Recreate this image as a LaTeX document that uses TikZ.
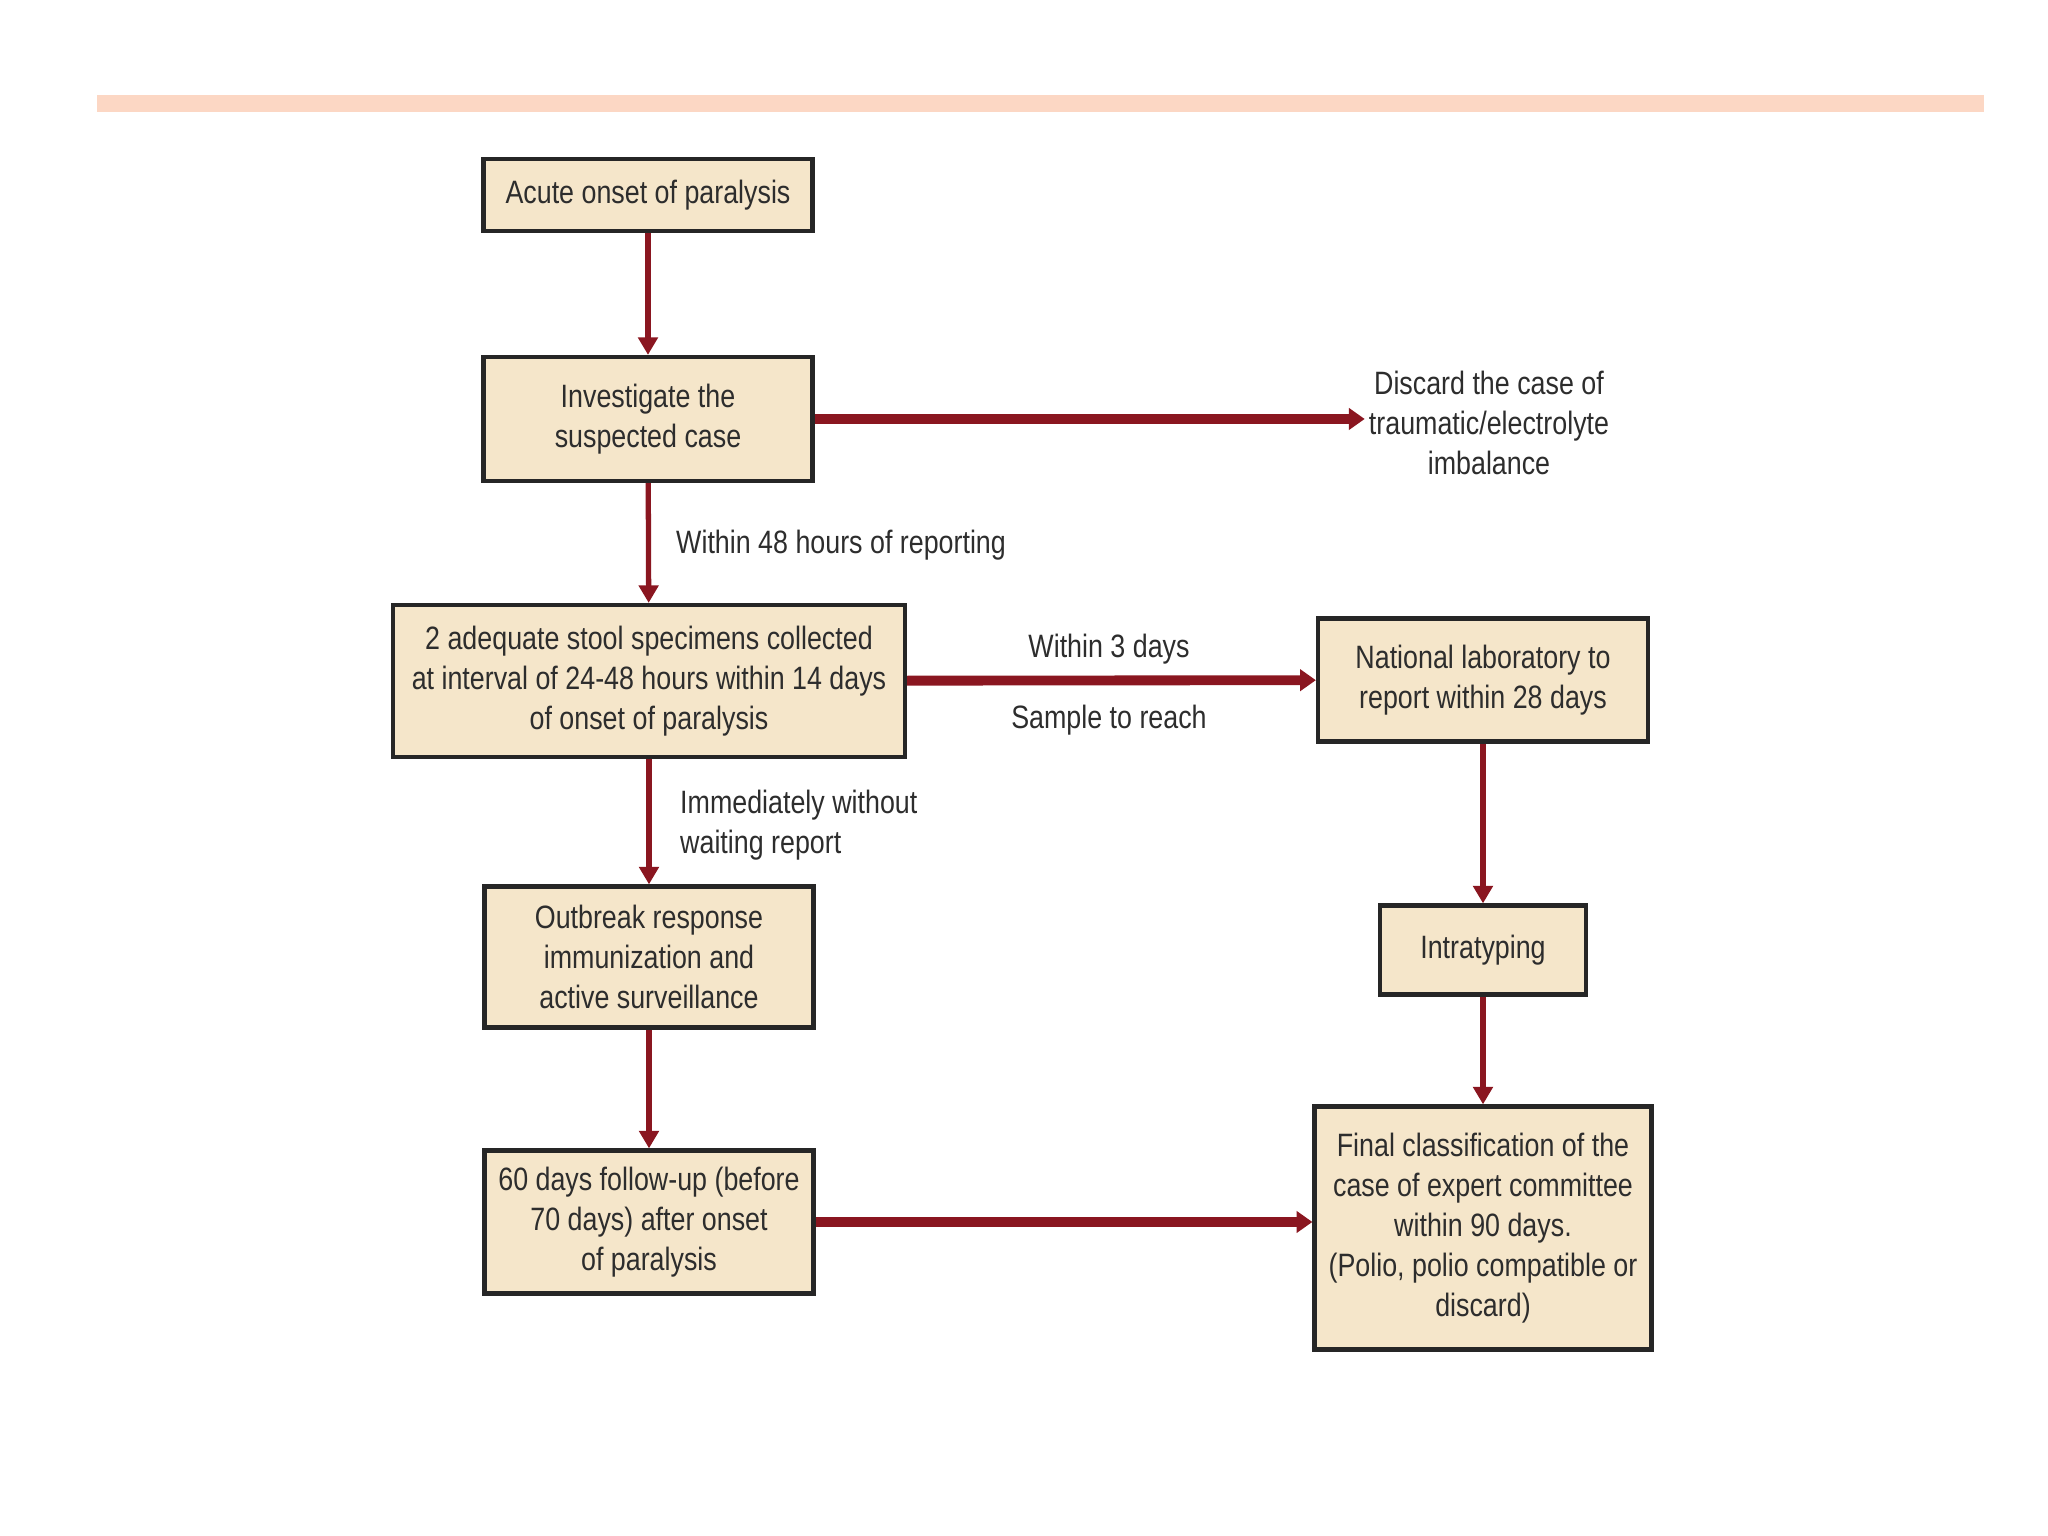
\documentclass[tikz,border=0pt]{standalone}
\usepackage{fontspec}
\setmainfont{Liberation Sans}[FakeStretch=0.83]
\usetikzlibrary{arrows.meta}
\definecolor{boxfill}{RGB}{245,230,202}
\definecolor{flowred}{RGB}{138,22,32}
\definecolor{inkgray}{RGB}{45,45,45}
\definecolor{barpink}{RGB}{252,215,196}

\begin{document}
\begin{tikzpicture}
            [box/.style={draw=black!85,line width=1.2pt,fill=boxfill,align=center,inner sep=2pt,text=inkgray,font=\fontsize{9.2}{11.4}\selectfont},
             lbl/.style={text=inkgray,inner sep=1pt,font=\fontsize{9.2}{11.4}\selectfont},
             down/.style={draw=flowred,line width=1.5pt,-{Triangle[length=5pt,width=5.5pt]}},
             side/.style={draw=flowred,line width=2.8pt,-{Triangle[length=4.5pt,width=6pt]}}]

            \useasboundingbox (0,0) rectangle (20.48,15.36);
            \fill[barpink] (0.97,14.24) rectangle (19.84,14.41);

            \node[box,minimum width=3.29cm,minimum height=0.72cm] (onset) at (6.48, 13.41) {Acute onset of paralysis};
            \node[box,minimum width=3.29cm,minimum height=1.24cm] (invest) at (6.48, 11.17) {Investigate the\\suspected case};
            \node[box,minimum width=5.12cm,minimum height=1.52cm] (stool) at (6.49, 8.55) {2 adequate stool specimens collected\\at interval of 24-48 hours within 14 days\\of onset of paralysis};
            \node[box,minimum width=3.29cm,minimum height=1.41cm] (outbreak) at (6.49, 5.79) {Outbreak response\\immunization and\\active surveillance};
            \node[box,minimum width=3.29cm,minimum height=1.43cm] (follow) at (6.49, 3.14) {60 days follow-up (before\\70 days) after onset\\of paralysis};
            \node[box,minimum width=3.30cm,minimum height=1.23cm] (natlab) at (14.83, 8.56) {National laboratory to\\report within 28 days};
            \node[box,minimum width=2.06cm,minimum height=0.89cm] (intra) at (14.83, 5.86) {Intratyping};
            \node[box,minimum width=3.37cm,minimum height=2.43cm] (final) at (14.83, 3.08) {Final classification of the\\case of expert committee\\within 90 days.\\(Polio, polio compatible or\\discard)};
            \node[lbl,align=center] (discard) at (14.89, 11.13) {Discard the case of\\traumatic/electrolyte\\imbalance};

            \node[lbl,anchor=west] (within48) at (6.72, 9.91) {Within 48 hours of reporting};
            \node[lbl] (within3) at (11.09, 8.87) {Within 3 days};
            \node[lbl] (sample) at (11.09, 8.16) {Sample to reach};
            \node[lbl,anchor=west,align=left] (immed) at (6.76, 7.11) {Immediately without\\waiting report};

            \draw[down] (onset) -- (invest);
            \draw[down] (invest) -- (stool);
            \draw[down] (stool) -- (outbreak);
            \draw[down] (outbreak) -- (follow);
            \draw[down] (natlab) -- (intra);
            \draw[down] (intra) -- (final);
            \draw[side] (invest) -- (invest -| discard.west);
            \draw[side] (stool) -- (natlab);
            \draw[side] (follow) -- (follow -| final.west);
          \end{tikzpicture}
\end{document}
